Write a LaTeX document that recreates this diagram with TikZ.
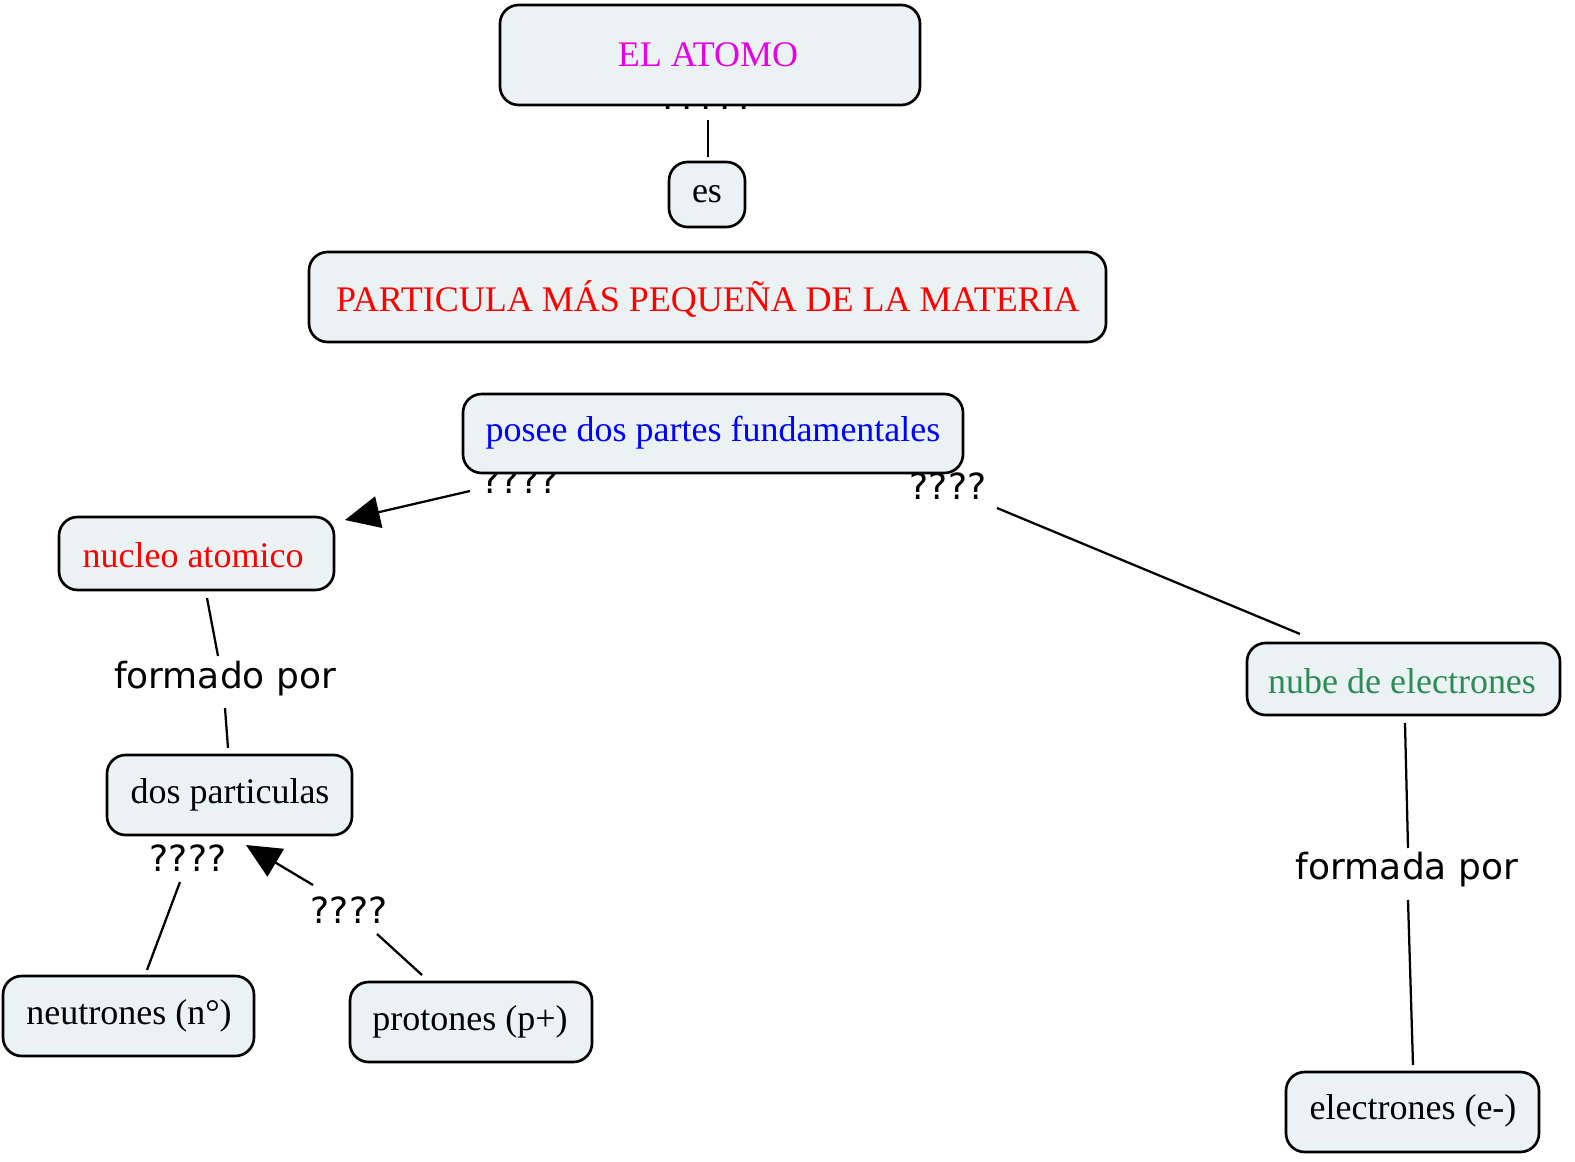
\documentclass[tikz,border=0pt]{standalone}
\usepackage{fontspec}
\setmainfont{Liberation Serif}
\newfontfamily\lblfont{DejaVu Sans}
\usetikzlibrary{arrows.meta}
\definecolor{boxfill}{HTML}{EBF2F4}
\definecolor{nubegreen}{RGB}{46,139,87}
\definecolor{atommag}{RGB}{230,0,230}
\tikzset{
  cbox/.style={draw=black,line width=2pt,fill=boxfill,rounded corners=14pt},
  lbl/.style={font=\lblfont\fontsize{27}{30}\selectfont,inner sep=1pt},
  conn/.style={line width=1.7pt},
  arr/.style={line width=1.7pt,-{Triangle[length=26pt,width=24pt]}}
}
\newcommand{\bt}{\fontsize{27}{30}\selectfont}
\begin{document}
\begin{tikzpicture}[x=0.75pt,y=-0.75pt]
\useasboundingbox (0,0) rectangle (1575,1162);
% labels hidden partly behind boxes
\node[lbl] (q0) at (707,96) {?????};
\node[lbl] (q1) at (520,480) {????};
\node[lbl] (q2) at (948,486) {????};
\node[lbl] (q3) at (188,858) {????};
\node[lbl] (q4) at (349,910) {????};
\node[lbl] (f1) at (225,679) {formado por};
\node[lbl] (f2) at (1407,870) {formada por};
% boxes
\path[cbox] (500,5) rectangle (920,105);
\node (atomo) at (708,55) {\bt\color{atommag}EL ATOMO};
\path[cbox] (669,162) rectangle (745,227);
\node (es) at (707,194) {\bt es};
\path[cbox] (309,252) rectangle (1106,342);
\node (part) at (708,299) {\bt\color{red}PARTICULA MÁS PEQUEÑA DE LA MATERIA};
\path[cbox] (463,394) rectangle (963,473);
\node (posee) at (713,433) {\bt\color{blue}posee dos partes fundamentales};
\path[cbox] (59,517) rectangle (334,590);
\node (nucleo) at (193,555) {\bt\color{red}nucleo atomico};
\path[cbox] (107,755) rectangle (352,835);
\node (dos) at (230,795) {\bt dos particulas};
\path[cbox] (3,976) rectangle (254,1056);
\node (neu) at (129,1016) {\bt neutrones (n°)};
\path[cbox] (350,982) rectangle (592,1062);
\node (pro) at (470,1022) {\bt protones (p+)};
\path[cbox] (1247,643) rectangle (1560,715);
\node (nube) at (1402,681) {\bt\color{nubegreen}nube de electrones};
\path[cbox] (1286,1072) rectangle (1539,1152);
\node (ele) at (1413,1111) {\bt electrones (e-)};
% connectors
\coordinate (a1) at (708,120); \coordinate (a2) at (708,157);
\draw[conn] (a1) -- (a2);
\coordinate (b1) at (470,491); \coordinate (b2) at (345,520);
\draw[arr] (b1) -- (b2);
\coordinate (c1) at (997,508); \coordinate (c2) at (1300,634);
\draw[conn] (c1) -- (c2);
\coordinate (d1) at (207,598); \coordinate (d2) at (218,656);
\draw[conn] (d1) -- (d2);
\coordinate (d3) at (225,708); \coordinate (d4) at (228,748);
\draw[conn] (d3) -- (d4);
\coordinate (e1) at (180,882); \coordinate (e2) at (147,970);
\draw[conn] (e1) -- (e2);
\coordinate (g1) at (422,975); \coordinate (g2) at (377,934);
\draw[conn] (g1) -- (g2);
\coordinate (h1) at (313,885); \coordinate (h2) at (246,845);
\draw[arr] (h1) -- (h2);
\coordinate (k1) at (1405,723); \coordinate (k2) at (1408,848);
\draw[conn] (k1) -- (k2);
\coordinate (k3) at (1408,900); \coordinate (k4) at (1413,1065);
\draw[conn] (k3) -- (k4);
\end{tikzpicture}
\end{document}
